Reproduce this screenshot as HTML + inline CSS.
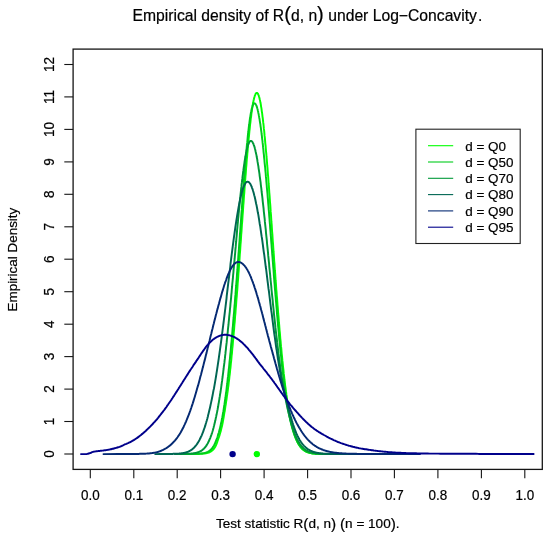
<!DOCTYPE html>
<html><head><meta charset="utf-8"><title>Empirical density of R(d, n) under Log-Concavity</title>
<style>html,body{margin:0;padding:0;background:#fff}svg{display:block}text{font-family:"Liberation Sans",Arial,Helvetica,sans-serif;fill:#000;stroke:#000;stroke-width:0.2px}</style></head><body>
<svg width="550" height="537" viewBox="0 0 550 537">
<rect width="550" height="537" fill="#fff"/>
<text x="307.4" y="20.8" font-size="15.7" text-anchor="middle">Empirical density of R<tspan font-size="20.2" dy="0.6">(</tspan><tspan dy="-0.6">d, n</tspan><tspan font-size="20.2" dy="0.6">)</tspan><tspan dy="-0.6"> under Log−Concavity<tspan dx="2.2">.</tspan></tspan></text>
<g fill="none" stroke-width="1.95" stroke-linejoin="round" stroke-linecap="round">
<path d="M190.0,454.1 L190.7,454.0 L190.9,454.0 L191.1,454.0 L191.4,454.0 L191.6,454.0 L191.9,454.0 L192.1,454.0 L192.3,454.0 L192.6,454.0 L192.8,454.0 L193.0,454.0 L193.3,454.0 L193.5,454.0 L193.7,454.0 L194.0,454.0 L194.2,454.0 L194.4,454.0 L194.7,454.0 L194.9,454.0 L195.1,453.9 L195.4,453.9 L195.6,453.9 L195.8,453.9 L196.1,453.9 L196.3,453.9 L196.5,453.9 L196.8,453.9 L197.0,453.9 L197.2,453.9 L197.5,453.9 L197.7,453.9 L197.9,453.9 L198.2,453.9 L198.4,453.9 L198.6,453.9 L198.9,453.9 L199.1,453.9 L199.3,453.8 L199.6,453.8 L199.8,453.8 L200.0,453.8 L200.3,453.8 L200.5,453.8 L200.7,453.8 L201.0,453.8 L201.2,453.8 L201.5,453.7 L201.7,453.7 L201.9,453.7 L202.2,453.7 L202.4,453.7 L202.6,453.7 L202.9,453.6 L203.1,453.6 L203.3,453.6 L203.6,453.6 L203.8,453.6 L204.0,453.5 L204.3,453.5 L204.5,453.5 L204.7,453.4 L205.0,453.4 L205.2,453.4 L205.4,453.3 L205.7,453.3 L205.9,453.3 L206.1,453.2 L206.4,453.2 L206.6,453.1 L206.8,453.1 L207.0,453.1 L207.2,453.0 L207.4,453.0 L207.6,452.9 L207.8,452.8 L208.0,452.8 L208.2,452.7 L208.4,452.6 L208.6,452.6 L208.8,452.5 L209.0,452.4 L209.2,452.4 L209.4,452.3 L209.6,452.2 L209.7,452.1 L209.9,452.0 L210.1,451.9 L210.3,451.8 L210.5,451.7 L210.7,451.6 L210.9,451.5 L211.1,451.3 L211.3,451.2 L211.5,451.1 L211.7,450.9 L211.8,450.8 L212.0,450.6 L212.2,450.5 L212.4,450.3 L212.6,450.1 L212.8,450.0 L213.0,449.8 L213.1,449.6 L213.3,449.4 L213.5,449.2 L213.7,449.0 L213.9,448.7 L214.1,448.5 L214.2,448.2 L214.4,448.0 L214.6,447.7 L214.8,447.5 L215.0,447.2 L215.1,446.9 L215.3,446.6 L215.5,446.3 L215.7,445.9 L215.8,445.6 L216.0,445.2 L216.1,444.9 L216.3,444.5 L216.5,444.1 L216.6,443.7 L216.8,443.3 L216.9,442.8 L217.1,442.4 L217.3,441.9 L217.4,441.4 L217.6,440.9 L217.8,440.4 L217.9,439.9 L218.1,439.4 L218.3,438.8 L218.5,438.2 L218.7,437.6 L218.9,437.0 L219.2,436.3 L219.4,435.7 L219.6,435.0 L219.8,434.3 L220.0,433.6 L220.2,432.8 L220.5,432.0 L220.7,431.2 L220.9,430.4 L221.1,429.6 L221.3,428.7 L221.5,427.8 L221.8,426.9 L222.0,426.0 L222.2,425.0 L222.4,424.0 L222.6,423.0 L222.8,422.0 L223.0,420.9 L223.2,419.8 L223.4,418.7 L223.6,417.5 L223.8,416.3 L224.0,415.1 L224.2,413.9 L224.4,412.6 L224.7,411.3 L224.9,409.9 L225.1,408.5 L225.3,407.1 L225.5,405.7 L225.8,404.2 L226.0,402.7 L226.2,401.2 L226.5,399.6 L226.7,398.0 L226.9,396.4 L227.2,394.7 L227.4,393.0 L227.7,391.2 L227.9,389.4 L228.1,387.6 L228.4,385.8 L228.6,383.9 L228.8,382.0 L229.1,380.0 L229.3,378.0 L229.5,376.0 L229.8,373.9 L230.0,371.8 L230.2,369.6 L230.5,367.5 L230.7,365.2 L230.9,363.0 L231.2,360.7 L231.4,358.4 L231.6,356.0 L231.9,353.6 L232.1,351.2 L232.3,348.7 L232.6,346.2 L232.8,343.7 L233.0,341.1 L233.3,338.5 L233.5,335.9 L233.7,333.2 L234.0,330.5 L234.2,327.8 L234.4,325.0 L234.7,322.2 L234.9,319.4 L235.1,316.5 L235.4,313.7 L235.6,310.7 L235.8,307.8 L236.1,304.8 L236.3,301.8 L236.5,298.8 L236.8,295.8 L237.0,292.7 L237.3,289.6 L237.5,286.5 L237.7,283.4 L238.0,280.2 L238.2,277.1 L238.4,273.9 L238.7,270.7 L238.9,267.5 L239.1,264.2 L239.4,261.0 L239.6,257.8 L239.8,254.5 L240.1,251.2 L240.3,247.9 L240.5,244.7 L240.8,241.4 L241.0,238.1 L241.2,234.8 L241.5,231.5 L241.7,228.2 L241.9,224.9 L242.2,221.7 L242.4,218.4 L242.6,215.1 L242.9,211.9 L243.1,208.6 L243.3,205.4 L243.6,202.2 L243.8,198.9 L244.0,195.8 L244.3,192.6 L244.5,189.4 L244.7,186.3 L245.0,183.2 L245.2,180.1 L245.4,177.1 L245.7,174.1 L245.9,171.1 L246.1,168.1 L246.4,165.2 L246.6,162.3 L246.8,159.5 L247.1,156.7 L247.3,153.9 L247.6,151.2 L247.8,148.5 L248.0,145.9 L248.3,143.3 L248.5,140.8 L248.7,138.3 L249.0,135.9 L249.2,133.5 L249.4,131.2 L249.7,128.9 L249.9,126.7 L250.1,124.5 L250.4,122.4 L250.6,120.4 L250.8,118.5 L251.1,116.6 L251.3,114.7 L251.5,113.0 L251.8,111.3 L252.0,109.6 L252.2,108.1 L252.5,106.6 L252.7,105.2 L252.9,103.8 L253.2,102.6 L253.4,101.4 L253.6,100.3 L253.9,99.2 L254.1,98.3 L254.3,97.4 L254.6,96.6 L254.8,95.8 L255.0,95.2 L255.3,94.6 L255.5,94.1 L255.7,93.7 L256.0,93.4 L256.2,93.2 L256.4,93.0 L256.7,92.9 L256.9,92.9 L257.2,93.0 L257.4,93.2 L257.6,93.4 L257.9,93.7 L258.1,94.1 L258.3,94.6 L258.6,95.2 L258.8,95.8 L259.0,96.6 L259.3,97.4 L259.5,98.3 L259.7,99.2 L260.0,100.3 L260.2,101.4 L260.4,102.6 L260.7,103.8 L260.9,105.2 L261.1,106.6 L261.4,108.1 L261.6,109.6 L261.8,111.3 L262.1,113.0 L262.3,114.7 L262.5,116.6 L262.8,118.5 L263.0,120.4 L263.2,122.4 L263.5,124.5 L263.7,126.7 L263.9,128.9 L264.2,131.2 L264.4,133.5 L264.6,135.9 L264.9,138.3 L265.1,140.8 L265.3,143.3 L265.6,145.9 L265.8,148.5 L266.0,151.2 L266.3,153.9 L266.5,156.7 L266.8,159.5 L267.0,162.3 L267.2,165.2 L267.5,168.1 L267.7,171.1 L267.9,174.1 L268.2,177.1 L268.4,180.1 L268.6,183.2 L268.9,186.3 L269.1,189.4 L269.3,192.6 L269.6,195.8 L269.8,198.9 L270.0,202.2 L270.3,205.4 L270.5,208.6 L270.7,211.9 L271.0,215.1 L271.2,218.4 L271.4,221.7 L271.7,224.9 L271.9,228.2 L272.1,231.5 L272.4,234.8 L272.6,238.1 L272.8,241.4 L273.1,244.7 L273.3,247.9 L273.5,251.2 L273.8,254.5 L274.0,257.8 L274.2,261.0 L274.5,264.2 L274.7,267.5 L274.9,270.7 L275.2,273.9 L275.4,277.1 L275.6,280.2 L275.9,283.4 L276.1,286.5 L276.3,289.6 L276.6,292.7 L276.8,295.8 L277.1,298.8 L277.3,301.8 L277.5,304.8 L277.8,307.8 L278.0,310.7 L278.2,313.7 L278.5,316.5 L278.7,319.4 L278.9,322.2 L279.2,325.0 L279.4,327.8 L279.6,330.5 L279.9,333.2 L280.1,335.9 L280.3,338.5 L280.6,341.1 L280.8,343.7 L281.0,346.2 L281.3,348.7 L281.5,351.2 L281.7,353.6 L282.0,356.0 L282.2,358.4 L282.4,360.7 L282.7,363.0 L282.9,365.2 L283.1,367.5 L283.4,369.6 L283.6,371.8 L283.8,373.9 L284.1,376.0 L284.3,378.0 L284.5,380.0 L284.8,382.0 L285.0,383.9 L285.2,385.8 L285.5,387.6 L285.7,389.4 L285.9,391.2 L286.2,393.0 L286.4,394.7 L286.7,396.4 L286.9,398.0 L287.1,399.6 L287.4,401.2 L287.6,402.7 L287.8,404.2 L288.1,405.7 L288.3,407.1 L288.5,408.5 L288.8,409.9 L289.0,411.3 L289.2,412.6 L289.5,413.9 L289.7,415.1 L289.9,416.3 L290.2,417.5 L290.4,418.7 L290.6,419.8 L290.9,420.9 L291.1,422.0 L291.3,423.0 L291.6,424.0 L291.8,425.0 L292.0,426.0 L292.3,426.9 L292.5,427.8 L292.7,428.7 L293.0,429.6 L293.2,430.4 L293.4,431.2 L293.7,432.0 L293.9,432.8 L294.1,433.6 L294.4,434.3 L294.6,435.0 L294.8,435.7 L295.1,436.3 L295.3,437.0 L295.5,437.6 L295.8,438.2 L296.0,438.8 L296.2,439.4 L296.5,439.9 L296.7,440.4 L297.0,440.9 L297.2,441.4 L297.4,441.9 L297.7,442.4 L297.9,442.8 L298.1,443.3 L298.4,443.7 L298.6,444.1 L298.8,444.5 L299.1,444.9 L299.3,445.2 L299.5,445.6 L299.8,445.9 L300.0,446.3 L300.2,446.6 L300.5,446.9 L300.7,447.2 L300.9,447.5 L301.2,447.7 L301.4,448.0 L301.6,448.2 L301.9,448.5 L302.1,448.7 L302.3,449.0 L302.6,449.2 L302.8,449.4 L303.0,449.6 L303.3,449.8 L303.5,450.0 L303.7,450.1 L304.0,450.3 L304.2,450.5 L304.4,450.6 L304.7,450.8 L304.9,450.9 L305.1,451.1 L305.4,451.2 L305.6,451.3 L305.8,451.5 L306.1,451.6 L306.3,451.7 L306.6,451.8 L306.8,451.9 L307.0,452.0 L307.3,452.1 L307.5,452.2 L307.7,452.3 L308.0,452.4 L308.2,452.4 L308.4,452.5 L308.7,452.6 L308.9,452.6 L309.1,452.7 L309.4,452.8 L309.6,452.8 L309.8,452.9 L310.1,453.0 L310.3,453.0 L310.5,453.1 L310.8,453.1 L311.0,453.1 L311.2,453.2 L311.5,453.2 L311.7,453.3 L311.9,453.3 L312.2,453.3 L312.4,453.4 L312.6,453.4 L312.9,453.4 L313.1,453.5 L313.3,453.5 L313.6,453.5 L313.8,453.6 L314.0,453.6 L314.3,453.6 L314.5,453.6 L314.7,453.6 L315.0,453.7 L315.2,453.7 L315.4,453.7 L315.7,453.7 L315.9,453.7 L316.1,453.7 L316.4,453.8 L316.6,453.8 L316.9,453.8 L317.1,453.8 L317.3,453.8 L317.6,453.8 L317.8,453.8 L318.0,453.8 L318.3,453.8 L318.5,453.9 L318.7,453.9 L319.0,453.9 L319.2,453.9 L319.4,453.9 L319.7,453.9 L319.9,453.9 L320.1,453.9 L320.4,453.9 L320.6,453.9 L320.8,453.9 L321.1,453.9 L321.3,453.9 L321.5,453.9 L321.8,453.9 L322.0,453.9 L322.2,453.9 L322.5,453.9 L322.7,454.0 L322.9,454.0 L323.2,454.0 L323.4,454.0 L323.6,454.0 L323.9,454.0 L324.1,454.0 L324.3,454.0 L324.6,454.0 L324.8,454.0 L325.0,454.0 L325.3,454.0 L325.5,454.0 L325.7,454.0 L326.0,454.0 L326.2,454.0 L326.5,454.0 L326.7,454.0 L326.9,454.0 L340.0,454.0" stroke="#00ff00"/>
<path d="M185.0,454.1 L187.3,454.0 L187.5,454.0 L187.8,454.0 L188.0,454.0 L188.3,454.0 L188.5,454.0 L188.7,454.0 L189.0,454.0 L189.2,454.0 L189.5,454.0 L189.7,454.0 L190.0,454.0 L190.2,454.0 L190.4,454.0 L190.7,454.0 L190.9,454.0 L191.2,454.0 L191.4,454.0 L191.6,454.0 L191.9,454.0 L192.1,453.9 L192.4,453.9 L192.6,453.9 L192.8,453.9 L193.1,453.9 L193.3,453.9 L193.6,453.9 L193.8,453.9 L194.1,453.9 L194.3,453.9 L194.5,453.9 L194.8,453.9 L195.0,453.9 L195.3,453.9 L195.5,453.9 L195.7,453.9 L196.0,453.9 L196.2,453.9 L196.5,453.8 L196.7,453.8 L196.9,453.8 L197.2,453.8 L197.4,453.8 L197.7,453.8 L197.9,453.8 L198.1,453.8 L198.4,453.8 L198.6,453.7 L198.9,453.7 L199.1,453.7 L199.4,453.7 L199.6,453.7 L199.8,453.7 L200.1,453.6 L200.3,453.6 L200.6,453.6 L200.8,453.6 L201.0,453.5 L201.3,453.5 L201.5,453.5 L201.8,453.5 L202.0,453.4 L202.2,453.4 L202.5,453.4 L202.7,453.3 L203.0,453.3 L203.2,453.3 L203.4,453.2 L203.7,453.2 L203.9,453.1 L204.1,453.1 L204.3,453.0 L204.5,453.0 L204.7,452.9 L205.0,452.9 L205.2,452.8 L205.4,452.8 L205.6,452.7 L205.8,452.6 L206.0,452.5 L206.2,452.5 L206.5,452.4 L206.7,452.3 L206.9,452.2 L207.1,452.1 L207.3,452.1 L207.5,452.0 L207.7,451.9 L207.9,451.8 L208.1,451.6 L208.3,451.5 L208.5,451.4 L208.8,451.3 L209.0,451.2 L209.2,451.0 L209.4,450.9 L209.6,450.7 L209.8,450.6 L210.0,450.4 L210.2,450.2 L210.4,450.1 L210.6,449.9 L210.8,449.7 L211.0,449.5 L211.2,449.3 L211.4,449.1 L211.6,448.9 L211.8,448.6 L212.0,448.4 L212.2,448.2 L212.4,447.9 L212.6,447.6 L212.8,447.4 L212.9,447.1 L213.1,446.8 L213.3,446.5 L213.5,446.2 L213.7,445.8 L213.9,445.5 L214.1,445.1 L214.3,444.8 L214.5,444.4 L214.7,444.0 L214.9,443.6 L215.1,443.2 L215.3,442.7 L215.4,442.3 L215.6,441.8 L215.8,441.3 L216.0,440.8 L216.2,440.3 L216.5,439.8 L216.7,439.2 L216.9,438.7 L217.1,438.1 L217.3,437.5 L217.5,436.8 L217.7,436.2 L217.9,435.5 L218.1,434.9 L218.3,434.1 L218.6,433.4 L218.8,432.7 L219.0,431.9 L219.2,431.1 L219.4,430.3 L219.6,429.5 L219.9,428.6 L220.1,427.7 L220.3,426.8 L220.5,425.9 L220.7,424.9 L220.9,423.9 L221.2,422.9 L221.4,421.9 L221.6,420.8 L221.8,419.7 L222.0,418.6 L222.3,417.4 L222.5,416.2 L222.7,415.0 L222.9,413.8 L223.1,412.5 L223.4,411.2 L223.6,409.9 L223.8,408.5 L224.0,407.1 L224.2,405.7 L224.5,404.2 L224.7,402.7 L224.9,401.2 L225.1,399.6 L225.4,398.0 L225.6,396.4 L225.8,394.7 L226.0,393.0 L226.3,391.3 L226.5,389.5 L226.7,387.7 L226.9,385.9 L227.2,384.0 L227.4,382.1 L227.6,380.2 L227.8,378.2 L228.1,376.2 L228.3,374.2 L228.5,372.1 L228.7,370.0 L229.0,367.8 L229.2,365.6 L229.4,363.4 L229.6,361.1 L229.9,358.8 L230.1,356.5 L230.3,354.2 L230.6,351.8 L230.8,349.3 L231.0,346.9 L231.2,344.4 L231.5,341.8 L231.7,339.3 L231.9,336.7 L232.2,334.1 L232.4,331.4 L232.6,328.7 L232.9,326.0 L233.1,323.3 L233.3,320.5 L233.6,317.7 L233.8,314.9 L234.1,312.0 L234.3,309.1 L234.5,306.2 L234.8,303.3 L235.0,300.3 L235.2,297.4 L235.5,294.4 L235.7,291.3 L235.9,288.3 L236.2,285.2 L236.4,282.2 L236.7,279.1 L236.9,276.0 L237.1,272.8 L237.4,269.7 L237.6,266.6 L237.8,263.4 L238.1,260.2 L238.3,257.1 L238.5,253.9 L238.8,250.7 L239.0,247.5 L239.2,244.3 L239.5,241.1 L239.7,237.9 L239.9,234.7 L240.2,231.5 L240.4,228.3 L240.6,225.2 L240.9,222.0 L241.1,218.8 L241.3,215.7 L241.5,212.5 L241.8,209.4 L242.0,206.3 L242.2,203.2 L242.4,200.1 L242.7,197.1 L242.9,194.0 L243.1,191.0 L243.3,188.0 L243.6,185.1 L243.8,182.1 L244.0,179.2 L244.2,176.4 L244.5,173.5 L244.7,170.7 L244.9,168.0 L245.1,165.3 L245.4,162.6 L245.6,159.9 L245.8,157.3 L246.0,154.8 L246.3,152.3 L246.5,149.8 L246.7,147.4 L246.9,145.0 L247.2,142.7 L247.4,140.5 L247.6,138.3 L247.8,136.1 L248.0,134.0 L248.3,132.0 L248.5,130.0 L248.7,128.1 L248.9,126.3 L249.2,124.5 L249.4,122.8 L249.6,121.1 L249.8,119.5 L250.0,118.0 L250.3,116.6 L250.5,115.2 L250.7,113.9 L250.9,112.7 L251.2,111.5 L251.4,110.4 L251.6,109.4 L251.8,108.5 L252.1,107.6 L252.3,106.9 L252.5,106.1 L252.7,105.5 L253.0,105.0 L253.2,104.5 L253.4,104.1 L253.7,103.8 L253.9,103.5 L254.1,103.4 L254.4,103.3 L254.6,103.3 L254.9,103.4 L255.1,103.5 L255.3,103.8 L255.6,104.1 L255.8,104.5 L256.1,105.0 L256.3,105.5 L256.6,106.1 L256.8,106.9 L257.1,107.6 L257.3,108.5 L257.6,109.4 L257.8,110.4 L258.1,111.5 L258.3,112.7 L258.6,113.9 L258.8,115.2 L259.1,116.6 L259.3,118.0 L259.6,119.5 L259.8,121.1 L260.1,122.8 L260.4,124.5 L260.6,126.3 L260.9,128.1 L261.1,130.0 L261.4,132.0 L261.6,134.0 L261.9,136.1 L262.1,138.3 L262.4,140.5 L262.6,142.7 L262.9,145.0 L263.1,147.4 L263.4,149.8 L263.6,152.3 L263.9,154.8 L264.1,157.3 L264.4,159.9 L264.6,162.6 L264.9,165.3 L265.2,168.0 L265.4,170.7 L265.7,173.5 L265.9,176.4 L266.2,179.2 L266.4,182.1 L266.7,185.1 L266.9,188.0 L267.2,191.0 L267.5,194.0 L267.7,197.1 L268.0,200.1 L268.2,203.2 L268.5,206.3 L268.7,209.4 L269.0,212.5 L269.2,215.7 L269.5,218.8 L269.7,222.0 L270.0,225.2 L270.2,228.3 L270.5,231.5 L270.7,234.7 L271.0,237.9 L271.2,241.1 L271.5,244.3 L271.7,247.5 L272.0,250.7 L272.2,253.9 L272.5,257.1 L272.7,260.2 L273.0,263.4 L273.2,266.6 L273.5,269.7 L273.7,272.8 L273.9,276.0 L274.2,279.1 L274.4,282.2 L274.7,285.2 L274.9,288.3 L275.2,291.3 L275.4,294.4 L275.7,297.4 L275.9,300.3 L276.2,303.3 L276.4,306.2 L276.7,309.1 L276.9,312.0 L277.1,314.9 L277.4,317.7 L277.6,320.5 L277.9,323.3 L278.1,326.0 L278.4,328.7 L278.6,331.4 L278.9,334.1 L279.1,336.7 L279.3,339.3 L279.6,341.8 L279.8,344.4 L280.1,346.9 L280.3,349.3 L280.6,351.8 L280.8,354.2 L281.1,356.5 L281.3,358.8 L281.5,361.1 L281.8,363.4 L282.0,365.6 L282.3,367.8 L282.5,370.0 L282.8,372.1 L283.0,374.2 L283.3,376.2 L283.5,378.2 L283.7,380.2 L284.0,382.1 L284.2,384.0 L284.5,385.9 L284.7,387.7 L285.0,389.5 L285.2,391.3 L285.5,393.0 L285.7,394.7 L286.0,396.4 L286.2,398.0 L286.5,399.6 L286.7,401.2 L286.9,402.7 L287.2,404.2 L287.4,405.7 L287.7,407.1 L287.9,408.5 L288.2,409.9 L288.4,411.2 L288.7,412.5 L288.9,413.8 L289.2,415.0 L289.4,416.2 L289.7,417.4 L289.9,418.6 L290.2,419.7 L290.4,420.8 L290.7,421.9 L290.9,422.9 L291.2,423.9 L291.4,424.9 L291.7,425.9 L291.9,426.8 L292.2,427.7 L292.4,428.6 L292.7,429.5 L292.9,430.3 L293.2,431.1 L293.4,431.9 L293.7,432.7 L293.9,433.4 L294.2,434.1 L294.4,434.9 L294.7,435.5 L294.9,436.2 L295.2,436.8 L295.4,437.5 L295.7,438.1 L295.9,438.7 L296.2,439.2 L296.4,439.8 L296.7,440.3 L296.9,440.8 L297.1,441.3 L297.4,441.8 L297.6,442.3 L297.9,442.7 L298.1,443.2 L298.3,443.6 L298.6,444.0 L298.8,444.4 L299.1,444.8 L299.3,445.1 L299.6,445.5 L299.8,445.8 L300.0,446.2 L300.3,446.5 L300.5,446.8 L300.8,447.1 L301.0,447.4 L301.2,447.6 L301.5,447.9 L301.7,448.2 L302.0,448.4 L302.2,448.6 L302.4,448.9 L302.7,449.1 L302.9,449.3 L303.2,449.5 L303.4,449.7 L303.7,449.9 L303.9,450.1 L304.1,450.2 L304.4,450.4 L304.6,450.6 L304.9,450.7 L305.1,450.9 L305.3,451.0 L305.6,451.2 L305.8,451.3 L306.0,451.4 L306.3,451.5 L306.5,451.6 L306.7,451.8 L307.0,451.9 L307.2,452.0 L307.4,452.1 L307.7,452.1 L307.9,452.2 L308.1,452.3 L308.4,452.4 L308.6,452.5 L308.8,452.5 L309.0,452.6 L309.3,452.7 L309.5,452.8 L309.7,452.8 L310.0,452.9 L310.2,452.9 L310.4,453.0 L310.6,453.0 L310.9,453.1 L311.1,453.1 L311.3,453.2 L311.6,453.2 L311.8,453.3 L312.0,453.3 L312.3,453.3 L312.5,453.4 L312.8,453.4 L313.0,453.4 L313.2,453.5 L313.5,453.5 L313.7,453.5 L314.0,453.5 L314.2,453.6 L314.4,453.6 L314.7,453.6 L314.9,453.6 L315.2,453.7 L315.4,453.7 L315.6,453.7 L315.9,453.7 L316.1,453.7 L316.4,453.7 L316.6,453.8 L316.9,453.8 L317.1,453.8 L317.3,453.8 L317.6,453.8 L317.8,453.8 L318.1,453.8 L318.3,453.8 L318.5,453.8 L318.8,453.9 L319.0,453.9 L319.3,453.9 L319.5,453.9 L319.7,453.9 L320.0,453.9 L320.2,453.9 L320.5,453.9 L320.7,453.9 L320.9,453.9 L321.2,453.9 L321.4,453.9 L321.7,453.9 L321.9,453.9 L322.2,453.9 L322.4,453.9 L322.6,453.9 L322.9,453.9 L323.1,454.0 L323.4,454.0 L323.6,454.0 L323.8,454.0 L324.1,454.0 L324.3,454.0 L324.6,454.0 L324.8,454.0 L325.0,454.0 L325.3,454.0 L325.5,454.0 L325.8,454.0 L326.0,454.0 L326.3,454.0 L326.5,454.0 L326.7,454.0 L327.0,454.0 L327.2,454.0 L327.5,454.0 L327.7,454.0 L345.0,454.0" stroke="#00cc1c"/>
<path d="M175.0,454.1 L175.3,454.0 L175.6,454.0 L175.9,454.0 L176.1,454.0 L176.4,454.0 L176.7,454.0 L177.0,454.0 L177.2,454.0 L177.5,454.0 L177.8,454.0 L178.0,454.0 L178.3,454.0 L178.6,454.0 L178.8,454.0 L179.1,454.0 L179.4,454.0 L179.7,454.0 L179.9,454.0 L180.2,454.0 L180.5,454.0 L180.7,454.0 L181.0,454.0 L181.3,453.9 L181.5,453.9 L181.8,453.9 L182.1,453.9 L182.4,453.9 L182.6,453.9 L182.9,453.9 L183.2,453.9 L183.4,453.9 L183.7,453.9 L184.0,453.9 L184.2,453.9 L184.5,453.9 L184.8,453.9 L185.1,453.9 L185.3,453.9 L185.6,453.9 L185.9,453.9 L186.1,453.8 L186.4,453.8 L186.7,453.8 L186.9,453.8 L187.2,453.8 L187.5,453.8 L187.8,453.8 L188.0,453.8 L188.3,453.8 L188.6,453.7 L188.8,453.7 L189.1,453.7 L189.4,453.7 L189.6,453.7 L189.9,453.7 L190.2,453.6 L190.5,453.6 L190.7,453.6 L191.0,453.6 L191.3,453.5 L191.5,453.5 L191.8,453.5 L192.1,453.5 L192.3,453.4 L192.6,453.4 L192.9,453.4 L193.2,453.3 L193.4,453.3 L193.7,453.3 L193.9,453.2 L194.2,453.2 L194.4,453.1 L194.7,453.1 L195.0,453.0 L195.2,453.0 L195.5,452.9 L195.7,452.9 L196.0,452.8 L196.2,452.8 L196.5,452.7 L196.7,452.6 L197.0,452.6 L197.2,452.5 L197.5,452.4 L197.7,452.3 L198.0,452.3 L198.2,452.2 L198.5,452.1 L198.7,452.0 L198.9,451.9 L199.2,451.8 L199.4,451.7 L199.7,451.6 L199.9,451.5 L200.2,451.3 L200.4,451.2 L200.7,451.1 L200.9,450.9 L201.1,450.8 L201.4,450.7 L201.6,450.5 L201.9,450.3 L202.1,450.2 L202.3,450.0 L202.6,449.8 L202.8,449.6 L203.1,449.4 L203.3,449.2 L203.5,449.0 L203.8,448.8 L204.0,448.6 L204.2,448.3 L204.4,448.1 L204.7,447.8 L204.9,447.6 L205.1,447.3 L205.4,447.0 L205.6,446.7 L205.8,446.4 L206.0,446.1 L206.3,445.8 L206.5,445.4 L206.7,445.1 L206.9,444.7 L207.2,444.3 L207.4,443.9 L207.6,443.5 L207.9,443.1 L208.1,442.7 L208.3,442.2 L208.5,441.8 L208.8,441.3 L209.0,440.8 L209.2,440.3 L209.5,439.8 L209.7,439.2 L209.9,438.7 L210.2,438.1 L210.4,437.5 L210.6,436.9 L210.9,436.3 L211.1,435.6 L211.3,435.0 L211.6,434.3 L211.8,433.6 L212.1,432.8 L212.3,432.1 L212.5,431.3 L212.8,430.5 L213.0,429.7 L213.2,428.9 L213.5,428.0 L213.7,427.1 L213.9,426.2 L214.2,425.3 L214.4,424.3 L214.6,423.4 L214.9,422.4 L215.1,421.3 L215.4,420.3 L215.6,419.2 L215.8,418.1 L216.1,416.9 L216.3,415.8 L216.6,414.6 L216.8,413.4 L217.1,412.1 L217.3,410.8 L217.6,409.5 L217.8,408.2 L218.1,406.8 L218.3,405.4 L218.5,404.0 L218.8,402.6 L219.0,401.1 L219.3,399.6 L219.5,398.0 L219.8,396.4 L220.0,394.8 L220.3,393.2 L220.6,391.5 L220.8,389.8 L221.1,388.1 L221.3,386.3 L221.6,384.5 L221.8,382.7 L222.1,380.9 L222.3,379.0 L222.6,377.0 L222.8,375.1 L223.1,373.1 L223.3,371.1 L223.6,369.0 L223.8,367.0 L224.1,364.9 L224.4,362.7 L224.6,360.6 L224.9,358.4 L225.1,356.1 L225.4,353.9 L225.6,351.6 L225.9,349.3 L226.1,346.9 L226.4,344.6 L226.7,342.2 L226.9,339.7 L227.2,337.3 L227.4,334.8 L227.7,332.3 L227.9,329.8 L228.2,327.2 L228.5,324.7 L228.7,322.1 L229.0,319.4 L229.2,316.8 L229.5,314.2 L229.8,311.5 L230.0,308.8 L230.3,306.1 L230.5,303.3 L230.8,300.6 L231.1,297.8 L231.3,295.1 L231.6,292.3 L231.8,289.5 L232.1,286.7 L232.3,283.8 L232.6,281.0 L232.9,278.2 L233.1,275.3 L233.4,272.5 L233.6,269.6 L233.9,266.8 L234.1,263.9 L234.4,261.1 L234.7,258.2 L234.9,255.4 L235.2,252.5 L235.4,249.7 L235.7,246.9 L235.9,244.0 L236.2,241.2 L236.4,238.4 L236.7,235.6 L236.9,232.9 L237.1,230.1 L237.4,227.3 L237.6,224.6 L237.9,221.9 L238.1,219.2 L238.4,216.6 L238.6,213.9 L238.9,211.3 L239.1,208.7 L239.4,206.1 L239.6,203.6 L239.9,201.1 L240.1,198.6 L240.4,196.2 L240.6,193.8 L240.9,191.5 L241.1,189.1 L241.4,186.9 L241.6,184.6 L241.9,182.4 L242.1,180.3 L242.4,178.2 L242.6,176.1 L242.9,174.1 L243.1,172.1 L243.4,170.2 L243.6,168.3 L243.9,166.5 L244.1,164.8 L244.4,163.1 L244.6,161.4 L244.9,159.8 L245.1,158.3 L245.4,156.8 L245.6,155.4 L245.9,154.1 L246.1,152.8 L246.4,151.5 L246.6,150.4 L246.9,149.3 L247.1,148.2 L247.4,147.3 L247.6,146.4 L247.9,145.5 L248.1,144.8 L248.4,144.1 L248.7,143.4 L248.9,142.9 L249.2,142.4 L249.4,142.0 L249.7,141.6 L250.0,141.3 L250.2,141.1 L250.5,141.0 L250.8,140.9 L251.0,140.9 L251.3,141.0 L251.6,141.1 L251.8,141.3 L252.1,141.6 L252.4,142.0 L252.7,142.4 L252.9,142.9 L253.2,143.4 L253.5,144.1 L253.7,144.8 L254.0,145.5 L254.3,146.4 L254.6,147.3 L254.8,148.2 L255.1,149.3 L255.4,150.4 L255.6,151.5 L255.9,152.8 L256.2,154.1 L256.5,155.4 L256.7,156.8 L257.0,158.3 L257.3,159.8 L257.5,161.4 L257.8,163.1 L258.1,164.8 L258.4,166.5 L258.6,168.3 L258.9,170.2 L259.2,172.1 L259.5,174.1 L259.7,176.1 L260.0,178.2 L260.3,180.3 L260.6,182.4 L260.8,184.6 L261.1,186.9 L261.4,189.1 L261.6,191.5 L261.9,193.8 L262.2,196.2 L262.5,198.6 L262.7,201.1 L263.0,203.6 L263.3,206.1 L263.6,208.7 L263.8,211.3 L264.1,213.9 L264.4,216.6 L264.7,219.2 L264.9,221.9 L265.2,224.6 L265.5,227.3 L265.8,230.1 L266.0,232.9 L266.3,235.6 L266.6,238.4 L266.9,241.2 L267.1,244.0 L267.4,246.9 L267.7,249.7 L268.0,252.5 L268.2,255.4 L268.5,258.2 L268.8,261.1 L269.1,263.9 L269.3,266.8 L269.6,269.6 L269.9,272.5 L270.2,275.3 L270.4,278.2 L270.7,281.0 L271.0,283.8 L271.3,286.7 L271.5,289.5 L271.8,292.3 L272.1,295.1 L272.4,297.8 L272.7,300.6 L272.9,303.3 L273.2,306.1 L273.5,308.8 L273.8,311.5 L274.0,314.2 L274.3,316.8 L274.6,319.4 L274.9,322.1 L275.2,324.7 L275.4,327.2 L275.7,329.8 L276.0,332.3 L276.3,334.8 L276.6,337.3 L276.9,339.7 L277.1,342.2 L277.4,344.6 L277.7,346.9 L278.0,349.3 L278.3,351.6 L278.5,353.9 L278.8,356.1 L279.1,358.4 L279.4,360.6 L279.7,362.7 L280.0,364.9 L280.3,367.0 L280.5,369.0 L280.8,371.1 L281.1,373.1 L281.4,375.1 L281.7,377.0 L282.0,379.0 L282.3,380.9 L282.6,382.7 L282.9,384.5 L283.2,386.3 L283.5,388.1 L283.8,389.8 L284.1,391.5 L284.5,393.2 L284.8,394.8 L285.1,396.4 L285.4,398.0 L285.7,399.6 L286.0,401.1 L286.3,402.6 L286.6,404.0 L286.9,405.4 L287.2,406.8 L287.5,408.2 L287.8,409.5 L288.1,410.8 L288.4,412.1 L288.7,413.4 L289.0,414.6 L289.3,415.8 L289.6,416.9 L289.9,418.1 L290.2,419.2 L290.4,420.3 L290.7,421.3 L291.0,422.4 L291.3,423.4 L291.6,424.3 L291.8,425.3 L292.1,426.2 L292.4,427.1 L292.7,428.0 L293.0,428.9 L293.2,429.7 L293.5,430.5 L293.8,431.3 L294.1,432.1 L294.3,432.8 L294.6,433.6 L294.9,434.3 L295.2,435.0 L295.5,435.6 L295.7,436.3 L296.0,436.9 L296.3,437.5 L296.6,438.1 L296.8,438.7 L297.1,439.2 L297.4,439.8 L297.6,440.3 L297.9,440.8 L298.2,441.3 L298.5,441.8 L298.7,442.2 L299.0,442.7 L299.3,443.1 L299.5,443.5 L299.8,443.9 L300.1,444.3 L300.4,444.7 L300.6,445.1 L300.9,445.4 L301.2,445.8 L301.4,446.1 L301.7,446.4 L302.0,446.7 L302.2,447.0 L302.5,447.3 L302.8,447.6 L303.1,447.8 L303.3,448.1 L303.6,448.3 L303.9,448.6 L304.1,448.8 L304.4,449.0 L304.7,449.2 L304.9,449.4 L305.2,449.6 L305.5,449.8 L305.8,450.0 L306.0,450.2 L306.3,450.3 L306.6,450.5 L306.8,450.7 L307.1,450.8 L307.4,450.9 L307.6,451.1 L307.9,451.2 L308.2,451.3 L308.4,451.5 L308.7,451.6 L309.0,451.7 L309.2,451.8 L309.5,451.9 L309.8,452.0 L310.0,452.1 L310.3,452.2 L310.5,452.3 L310.8,452.3 L311.1,452.4 L311.3,452.5 L311.6,452.6 L311.8,452.6 L312.1,452.7 L312.4,452.8 L312.6,452.8 L312.9,452.9 L313.1,452.9 L313.4,453.0 L313.6,453.0 L313.9,453.1 L314.2,453.1 L314.4,453.2 L314.7,453.2 L314.9,453.3 L315.2,453.3 L315.4,453.3 L315.7,453.4 L316.0,453.4 L316.3,453.4 L316.5,453.5 L316.8,453.5 L317.1,453.5 L317.3,453.5 L317.6,453.6 L317.9,453.6 L318.1,453.6 L318.4,453.6 L318.7,453.7 L319.0,453.7 L319.2,453.7 L319.5,453.7 L319.8,453.7 L320.0,453.7 L320.3,453.8 L320.6,453.8 L320.8,453.8 L321.1,453.8 L321.4,453.8 L321.7,453.8 L321.9,453.8 L322.2,453.8 L322.5,453.8 L322.7,453.9 L323.0,453.9 L323.3,453.9 L323.5,453.9 L323.8,453.9 L324.1,453.9 L324.4,453.9 L324.6,453.9 L324.9,453.9 L325.2,453.9 L325.4,453.9 L325.7,453.9 L326.0,453.9 L326.2,453.9 L326.5,453.9 L326.8,453.9 L327.1,453.9 L327.3,453.9 L327.6,454.0 L327.9,454.0 L328.1,454.0 L328.4,454.0 L328.7,454.0 L328.9,454.0 L329.2,454.0 L329.5,454.0 L329.8,454.0 L330.0,454.0 L330.3,454.0 L330.6,454.0 L330.8,454.0 L331.1,454.0 L331.4,454.0 L331.6,454.0 L331.9,454.0 L332.2,454.0 L332.5,454.0 L332.7,454.0 L333.0,454.0 L333.3,454.0 L350.0,454.0" stroke="#009938"/>
<path d="M155.2,454.1 L160.1,454.0 L160.4,454.0 L160.7,454.0 L161.0,454.0 L161.4,454.0 L161.7,454.0 L162.0,454.0 L162.3,454.0 L162.6,454.0 L162.9,454.0 L163.2,454.0 L163.5,454.0 L163.8,454.0 L164.2,454.0 L164.5,454.0 L164.8,454.0 L165.1,454.0 L165.4,454.0 L165.7,454.0 L166.0,454.0 L166.3,454.0 L166.6,454.0 L166.9,454.0 L167.3,454.0 L167.6,453.9 L167.9,453.9 L168.2,453.9 L168.5,453.9 L168.8,453.9 L169.1,453.9 L169.4,453.9 L169.7,453.9 L170.0,453.9 L170.4,453.9 L170.7,453.9 L171.0,453.9 L171.3,453.9 L171.6,453.9 L171.9,453.9 L172.2,453.9 L172.5,453.9 L172.8,453.9 L173.2,453.8 L173.5,453.8 L173.8,453.8 L174.1,453.8 L174.4,453.8 L174.7,453.8 L175.0,453.8 L175.3,453.8 L175.6,453.8 L175.9,453.7 L176.3,453.7 L176.6,453.7 L176.9,453.7 L177.2,453.7 L177.5,453.7 L177.8,453.6 L178.1,453.6 L178.4,453.6 L178.7,453.6 L179.1,453.6 L179.4,453.5 L179.7,453.5 L180.0,453.5 L180.3,453.5 L180.6,453.4 L180.9,453.4 L181.2,453.4 L181.4,453.3 L181.7,453.3 L182.0,453.2 L182.2,453.2 L182.5,453.2 L182.8,453.1 L183.0,453.1 L183.3,453.0 L183.6,453.0 L183.8,452.9 L184.1,452.9 L184.4,452.8 L184.6,452.8 L184.9,452.7 L185.2,452.6 L185.4,452.6 L185.7,452.5 L186.0,452.4 L186.2,452.3 L186.5,452.3 L186.8,452.2 L187.0,452.1 L187.3,452.0 L187.5,451.9 L187.8,451.8 L188.1,451.7 L188.3,451.6 L188.6,451.5 L188.8,451.3 L189.1,451.2 L189.3,451.1 L189.6,451.0 L189.9,450.8 L190.1,450.7 L190.4,450.5 L190.6,450.4 L190.9,450.2 L191.1,450.0 L191.4,449.8 L191.7,449.7 L191.9,449.5 L192.2,449.3 L192.4,449.1 L192.7,448.9 L193.0,448.6 L193.2,448.4 L193.5,448.2 L193.8,447.9 L194.0,447.7 L194.3,447.4 L194.5,447.1 L194.8,446.8 L195.1,446.5 L195.3,446.2 L195.6,445.9 L195.9,445.6 L196.1,445.2 L196.4,444.9 L196.7,444.5 L196.9,444.2 L197.2,443.8 L197.5,443.4 L197.7,443.0 L198.0,442.5 L198.3,442.1 L198.6,441.6 L198.8,441.2 L199.1,440.7 L199.4,440.2 L199.6,439.7 L199.9,439.1 L200.2,438.6 L200.5,438.0 L200.7,437.4 L201.0,436.8 L201.3,436.2 L201.6,435.6 L201.9,434.9 L202.1,434.3 L202.4,433.6 L202.7,432.9 L203.0,432.2 L203.3,431.4 L203.5,430.6 L203.8,429.8 L204.1,429.0 L204.4,428.2 L204.7,427.4 L205.0,426.5 L205.3,425.6 L205.5,424.7 L205.8,423.7 L206.1,422.8 L206.4,421.8 L206.7,420.8 L207.0,419.7 L207.3,418.7 L207.6,417.6 L207.9,416.5 L208.1,415.3 L208.4,414.2 L208.7,413.0 L209.0,411.8 L209.3,410.5 L209.6,409.3 L209.9,408.0 L210.2,406.7 L210.5,405.3 L210.8,403.9 L211.1,402.6 L211.4,401.1 L211.7,399.7 L212.0,398.2 L212.3,396.7 L212.6,395.2 L212.9,393.6 L213.2,392.0 L213.5,390.4 L213.9,388.7 L214.2,387.1 L214.5,385.4 L214.8,383.6 L215.1,381.9 L215.4,380.1 L215.7,378.3 L216.0,376.5 L216.3,374.6 L216.6,372.7 L216.9,370.8 L217.2,368.9 L217.5,366.9 L217.8,364.9 L218.1,362.9 L218.4,360.9 L218.7,358.8 L219.0,356.7 L219.3,354.6 L219.6,352.5 L219.9,350.3 L220.2,348.2 L220.5,346.0 L220.8,343.8 L221.1,341.5 L221.4,339.3 L221.7,337.0 L222.0,334.7 L222.3,332.4 L222.6,330.0 L222.9,327.7 L223.2,325.3 L223.5,323.0 L223.8,320.6 L224.1,318.2 L224.4,315.8 L224.7,313.3 L225.0,310.9 L225.3,308.5 L225.6,306.0 L225.9,303.6 L226.2,301.1 L226.5,298.6 L226.7,296.1 L227.0,293.7 L227.3,291.2 L227.6,288.7 L227.9,286.2 L228.2,283.7 L228.5,281.3 L228.8,278.8 L229.1,276.3 L229.4,273.9 L229.7,271.4 L230.0,269.0 L230.3,266.5 L230.5,264.1 L230.8,261.7 L231.1,259.3 L231.4,256.9 L231.7,254.5 L232.0,252.1 L232.3,249.8 L232.6,247.5 L232.9,245.2 L233.2,242.9 L233.5,240.7 L233.8,238.4 L234.1,236.2 L234.4,234.1 L234.7,231.9 L235.0,229.8 L235.3,227.7 L235.6,225.7 L235.9,223.7 L236.2,221.7 L236.5,219.7 L236.8,217.8 L237.1,215.9 L237.4,214.1 L237.7,212.3 L238.0,210.6 L238.3,208.8 L238.6,207.2 L238.9,205.6 L239.2,204.0 L239.5,202.5 L239.8,201.0 L240.1,199.5 L240.4,198.2 L240.7,196.8 L241.0,195.5 L241.3,194.3 L241.6,193.1 L241.9,192.0 L242.2,191.0 L242.5,189.9 L242.8,189.0 L243.1,188.1 L243.5,187.2 L243.8,186.5 L244.1,185.7 L244.4,185.1 L244.7,184.5 L245.0,183.9 L245.3,183.4 L245.6,183.0 L245.9,182.6 L246.2,182.3 L246.5,182.1 L246.8,181.9 L247.1,181.8 L247.4,181.7 L247.8,181.7 L248.1,181.8 L248.4,181.9 L248.7,182.1 L249.0,182.3 L249.3,182.6 L249.6,183.0 L249.9,183.4 L250.3,183.9 L250.6,184.5 L250.9,185.1 L251.2,185.7 L251.5,186.5 L251.8,187.2 L252.1,188.1 L252.5,189.0 L252.8,189.9 L253.1,191.0 L253.4,192.0 L253.7,193.1 L254.0,194.3 L254.3,195.5 L254.7,196.8 L255.0,198.2 L255.3,199.5 L255.6,201.0 L255.9,202.5 L256.2,204.0 L256.6,205.6 L256.9,207.2 L257.2,208.8 L257.5,210.6 L257.8,212.3 L258.2,214.1 L258.5,215.9 L258.8,217.8 L259.1,219.7 L259.4,221.7 L259.7,223.7 L260.1,225.7 L260.4,227.7 L260.7,229.8 L261.0,231.9 L261.3,234.1 L261.6,236.2 L262.0,238.4 L262.3,240.7 L262.6,242.9 L262.9,245.2 L263.2,247.5 L263.5,249.8 L263.8,252.1 L264.2,254.5 L264.5,256.9 L264.8,259.3 L265.1,261.7 L265.4,264.1 L265.7,266.5 L266.1,269.0 L266.4,271.4 L266.7,273.9 L267.0,276.3 L267.3,278.8 L267.6,281.3 L267.9,283.7 L268.2,286.2 L268.5,288.7 L268.9,291.2 L269.2,293.7 L269.5,296.1 L269.8,298.6 L270.1,301.1 L270.4,303.6 L270.7,306.0 L271.0,308.5 L271.3,310.9 L271.7,313.3 L272.0,315.8 L272.3,318.2 L272.6,320.6 L272.9,323.0 L273.2,325.3 L273.5,327.7 L273.8,330.0 L274.1,332.4 L274.4,334.7 L274.8,337.0 L275.1,339.3 L275.4,341.5 L275.7,343.8 L276.0,346.0 L276.3,348.2 L276.7,350.3 L277.0,352.5 L277.3,354.6 L277.6,356.7 L277.9,358.8 L278.3,360.9 L278.6,362.9 L278.9,364.9 L279.3,366.9 L279.6,368.9 L279.9,370.8 L280.3,372.7 L280.6,374.6 L280.9,376.5 L281.3,378.3 L281.6,380.1 L282.0,381.9 L282.3,383.6 L282.7,385.4 L283.1,387.1 L283.5,388.7 L283.9,390.4 L284.3,392.0 L284.7,393.6 L285.1,395.2 L285.5,396.7 L285.8,398.2 L286.2,399.7 L286.5,401.1 L286.9,402.6 L287.2,403.9 L287.6,405.3 L287.9,406.7 L288.3,408.0 L288.6,409.3 L289.0,410.5 L289.3,411.8 L289.7,413.0 L290.0,414.2 L290.3,415.3 L290.7,416.5 L291.0,417.6 L291.3,418.7 L291.7,419.7 L292.0,420.8 L292.3,421.8 L292.6,422.8 L292.9,423.7 L293.2,424.7 L293.5,425.6 L293.8,426.5 L294.1,427.4 L294.4,428.2 L294.7,429.0 L295.0,429.8 L295.3,430.6 L295.6,431.4 L295.9,432.2 L296.1,432.9 L296.4,433.6 L296.7,434.3 L297.1,434.9 L297.4,435.6 L297.7,436.2 L298.0,436.8 L298.3,437.4 L298.6,438.0 L298.9,438.6 L299.2,439.1 L299.5,439.7 L299.8,440.2 L300.1,440.7 L300.4,441.2 L300.7,441.6 L301.0,442.1 L301.4,442.5 L301.7,443.0 L302.0,443.4 L302.3,443.8 L302.6,444.2 L302.9,444.5 L303.2,444.9 L303.5,445.2 L303.8,445.6 L304.1,445.9 L304.4,446.2 L304.8,446.5 L305.1,446.8 L305.4,447.1 L305.7,447.4 L306.0,447.7 L306.3,447.9 L306.6,448.2 L306.9,448.4 L307.2,448.6 L307.5,448.9 L307.8,449.1 L308.1,449.3 L308.5,449.5 L308.8,449.7 L309.1,449.8 L309.4,450.0 L309.7,450.2 L310.0,450.4 L310.3,450.5 L310.6,450.7 L310.9,450.8 L311.2,451.0 L311.5,451.1 L311.8,451.2 L312.1,451.3 L312.4,451.5 L312.7,451.6 L313.1,451.7 L313.4,451.8 L313.7,451.9 L314.0,452.0 L314.3,452.1 L314.6,452.2 L314.9,452.3 L315.2,452.3 L315.5,452.4 L315.8,452.5 L316.1,452.6 L316.4,452.6 L316.7,452.7 L317.0,452.8 L317.3,452.8 L317.6,452.9 L317.9,452.9 L318.2,453.0 L318.5,453.0 L318.9,453.1 L319.2,453.1 L319.5,453.2 L319.8,453.2 L320.1,453.2 L320.4,453.3 L320.7,453.3 L321.0,453.4 L321.3,453.4 L321.6,453.4 L321.9,453.5 L322.2,453.5 L322.5,453.5 L322.8,453.5 L323.1,453.6 L323.5,453.6 L323.8,453.6 L324.1,453.6 L324.4,453.6 L324.7,453.7 L325.0,453.7 L325.3,453.7 L325.6,453.7 L325.9,453.7 L326.3,453.7 L326.6,453.8 L326.9,453.8 L327.2,453.8 L327.5,453.8 L327.8,453.8 L328.1,453.8 L328.4,453.8 L328.7,453.8 L329.0,453.8 L329.4,453.9 L329.7,453.9 L330.0,453.9 L330.3,453.9 L330.6,453.9 L330.9,453.9 L331.2,453.9 L331.5,453.9 L331.8,453.9 L332.2,453.9 L332.5,453.9 L332.8,453.9 L333.1,453.9 L333.4,453.9 L333.7,453.9 L334.0,453.9 L334.3,453.9 L334.6,453.9 L334.9,454.0 L335.3,454.0 L335.6,454.0 L335.9,454.0 L336.2,454.0 L336.5,454.0 L336.8,454.0 L337.1,454.0 L337.4,454.0 L337.7,454.0 L338.0,454.0 L338.4,454.0 L338.7,454.0 L339.0,454.0 L339.3,454.0 L339.6,454.0 L339.9,454.0 L340.2,454.0 L340.5,454.0 L340.8,454.0 L341.2,454.0 L341.5,454.0 L341.8,454.0 L342.1,454.0 L380.0,454.0" stroke="#006653"/>
<path d="M103.5,454.1 L118.5,454.0 L119.0,454.0 L119.4,454.0 L119.8,454.0 L120.3,454.0 L120.7,454.0 L121.2,454.0 L121.6,454.0 L122.0,454.0 L122.5,454.0 L122.9,454.0 L123.4,454.0 L123.8,454.0 L124.2,454.0 L124.7,454.0 L125.1,454.0 L125.6,454.0 L126.0,454.0 L126.5,454.0 L126.9,454.0 L127.3,454.0 L127.8,454.0 L128.2,454.0 L128.7,454.0 L129.1,454.0 L129.5,454.0 L130.0,454.0 L130.4,454.0 L130.9,454.0 L131.3,454.0 L131.7,453.9 L132.2,453.9 L132.6,453.9 L133.1,453.9 L133.5,453.9 L133.9,453.9 L134.4,453.9 L134.8,453.9 L135.3,453.9 L135.7,453.9 L136.1,453.9 L136.6,453.9 L137.0,453.9 L137.5,453.9 L137.9,453.9 L138.3,453.9 L138.8,453.9 L139.2,453.9 L139.7,453.8 L140.1,453.8 L140.5,453.8 L141.0,453.8 L141.4,453.8 L141.9,453.8 L142.2,453.8 L142.6,453.8 L143.0,453.8 L143.3,453.7 L143.7,453.7 L144.0,453.7 L144.4,453.7 L144.7,453.7 L145.1,453.7 L145.4,453.7 L145.8,453.6 L146.1,453.6 L146.5,453.6 L146.8,453.6 L147.2,453.5 L147.5,453.5 L147.9,453.5 L148.2,453.5 L148.6,453.4 L148.9,453.4 L149.3,453.4 L149.6,453.4 L150.0,453.3 L150.3,453.3 L150.7,453.2 L151.0,453.2 L151.4,453.2 L151.7,453.1 L152.1,453.1 L152.4,453.0 L152.7,453.0 L153.1,452.9 L153.4,452.9 L153.8,452.8 L154.1,452.8 L154.5,452.7 L154.8,452.6 L155.1,452.6 L155.5,452.5 L155.8,452.4 L156.2,452.4 L156.5,452.3 L156.8,452.2 L157.1,452.1 L157.5,452.0 L157.8,451.9 L158.1,451.9 L158.4,451.8 L158.7,451.6 L159.1,451.5 L159.4,451.4 L159.7,451.3 L160.0,451.2 L160.4,451.1 L160.7,450.9 L161.0,450.8 L161.4,450.7 L161.7,450.5 L162.0,450.4 L162.4,450.2 L162.7,450.1 L163.1,449.9 L163.4,449.7 L163.8,449.5 L164.1,449.3 L164.5,449.1 L164.9,448.9 L165.2,448.7 L165.6,448.5 L166.0,448.3 L166.3,448.1 L166.7,447.8 L167.1,447.6 L167.5,447.3 L167.9,447.1 L168.2,446.8 L168.6,446.5 L169.0,446.2 L169.4,445.9 L169.8,445.6 L170.2,445.3 L170.6,444.9 L171.0,444.6 L171.4,444.3 L171.7,443.9 L172.1,443.5 L172.5,443.1 L172.9,442.7 L173.3,442.3 L173.7,441.9 L174.1,441.5 L174.5,441.0 L174.9,440.6 L175.3,440.1 L175.7,439.6 L176.1,439.1 L176.5,438.6 L176.9,438.1 L177.3,437.5 L177.7,437.0 L178.1,436.4 L178.5,435.8 L178.9,435.2 L179.3,434.6 L179.7,434.0 L180.1,433.3 L180.5,432.7 L180.9,432.0 L181.3,431.3 L181.7,430.6 L182.1,429.8 L182.5,429.1 L182.9,428.3 L183.3,427.5 L183.7,426.7 L184.0,425.9 L184.4,425.1 L184.8,424.2 L185.2,423.4 L185.6,422.5 L186.0,421.6 L186.4,420.6 L186.8,419.7 L187.2,418.7 L187.6,417.7 L188.0,416.7 L188.4,415.7 L188.8,414.7 L189.2,413.6 L189.6,412.5 L190.0,411.4 L190.4,410.3 L190.8,409.1 L191.2,408.0 L191.6,406.8 L192.0,405.6 L192.4,404.4 L192.8,403.2 L193.2,401.9 L193.6,400.6 L194.0,399.3 L194.4,398.0 L194.8,396.7 L195.2,395.3 L195.6,394.0 L196.0,392.6 L196.4,391.2 L196.8,389.8 L197.2,388.3 L197.6,386.9 L198.1,385.4 L198.5,383.9 L198.9,382.4 L199.3,380.9 L199.7,379.4 L200.1,377.8 L200.5,376.3 L201.0,374.7 L201.4,373.1 L201.8,371.5 L202.2,369.9 L202.6,368.2 L203.1,366.6 L203.5,364.9 L203.9,363.3 L204.3,361.6 L204.8,359.9 L205.2,358.2 L205.6,356.5 L206.0,354.8 L206.5,353.1 L206.9,351.4 L207.3,349.7 L207.7,347.9 L208.2,346.2 L208.6,344.4 L209.0,342.7 L209.5,340.9 L209.9,339.2 L210.3,337.4 L210.7,335.7 L211.2,334.0 L211.6,332.2 L212.0,330.5 L212.5,328.7 L212.9,327.0 L213.3,325.2 L213.8,323.5 L214.2,321.8 L214.6,320.1 L215.1,318.4 L215.5,316.7 L215.9,315.0 L216.4,313.3 L216.8,311.7 L217.2,310.0 L217.7,308.4 L218.1,306.8 L218.5,305.2 L219.0,303.6 L219.4,302.0 L219.8,300.5 L220.2,298.9 L220.7,297.4 L221.1,295.9 L221.5,294.5 L221.9,293.0 L222.3,291.6 L222.8,290.2 L223.2,288.8 L223.6,287.5 L224.0,286.1 L224.4,284.8 L224.8,283.6 L225.2,282.3 L225.7,281.1 L226.1,280.0 L226.5,278.8 L226.9,277.7 L227.3,276.6 L227.7,275.6 L228.1,274.6 L228.5,273.6 L229.0,272.7 L229.4,271.8 L229.8,270.9 L230.2,270.1 L230.6,269.3 L231.0,268.5 L231.5,267.8 L231.9,267.1 L232.3,266.5 L232.7,265.9 L233.1,265.4 L233.5,264.8 L233.9,264.4 L234.3,263.9 L234.8,263.6 L235.2,263.2 L235.6,262.9 L236.0,262.7 L236.5,262.4 L236.9,262.3 L237.3,262.1 L237.7,262.0 L238.2,262.0 L238.6,262.0 L239.1,262.0 L239.5,262.1 L240.0,262.3 L240.4,262.4 L240.9,262.7 L241.4,262.9 L241.8,263.2 L242.3,263.6 L242.8,263.9 L243.2,264.4 L243.7,264.8 L244.2,265.4 L244.7,265.9 L245.1,266.5 L245.6,267.1 L246.1,267.8 L246.5,268.5 L247.0,269.3 L247.5,270.1 L247.9,270.9 L248.4,271.8 L248.9,272.7 L249.3,273.6 L249.8,274.6 L250.2,275.6 L250.7,276.6 L251.1,277.7 L251.5,278.8 L252.0,280.0 L252.4,281.1 L252.9,282.3 L253.3,283.6 L253.8,284.8 L254.2,286.1 L254.6,287.5 L255.1,288.8 L255.5,290.2 L256.0,291.6 L256.4,293.0 L256.8,294.5 L257.3,295.9 L257.7,297.4 L258.2,298.9 L258.6,300.5 L259.0,302.0 L259.5,303.6 L259.9,305.2 L260.4,306.8 L260.8,308.4 L261.2,310.0 L261.7,311.7 L262.1,313.3 L262.6,315.0 L263.0,316.7 L263.4,318.4 L263.9,320.1 L264.3,321.8 L264.8,323.5 L265.2,325.2 L265.7,327.0 L266.1,328.7 L266.6,330.5 L267.0,332.2 L267.5,334.0 L267.9,335.7 L268.4,337.4 L268.9,339.2 L269.3,340.9 L269.8,342.7 L270.3,344.4 L270.7,346.2 L271.2,347.9 L271.7,349.7 L272.2,351.4 L272.6,353.1 L273.1,354.8 L273.6,356.5 L274.0,358.2 L274.5,359.9 L275.0,361.6 L275.4,363.3 L275.9,364.9 L276.4,366.6 L276.8,368.2 L277.3,369.9 L277.8,371.5 L278.2,373.1 L278.7,374.7 L279.1,376.3 L279.6,377.8 L280.1,379.4 L280.5,380.9 L281.0,382.4 L281.5,383.9 L281.9,385.4 L282.4,386.9 L282.8,388.3 L283.3,389.8 L283.8,391.2 L284.2,392.6 L284.7,394.0 L285.2,395.3 L285.6,396.7 L286.1,398.0 L286.5,399.3 L287.0,400.6 L287.5,401.9 L287.9,403.2 L288.4,404.4 L288.9,405.6 L289.3,406.8 L289.8,408.0 L290.3,409.1 L290.7,410.3 L291.2,411.4 L291.7,412.5 L292.1,413.6 L292.6,414.7 L293.1,415.7 L293.5,416.7 L294.0,417.7 L294.5,418.7 L294.9,419.7 L295.4,420.6 L295.9,421.6 L296.3,422.5 L296.8,423.4 L297.3,424.2 L297.7,425.1 L298.2,425.9 L298.7,426.7 L299.1,427.5 L299.6,428.3 L300.1,429.1 L300.5,429.8 L301.0,430.6 L301.4,431.3 L301.9,432.0 L302.4,432.7 L302.8,433.3 L303.3,434.0 L303.7,434.6 L304.2,435.2 L304.6,435.8 L305.1,436.4 L305.6,437.0 L306.0,437.5 L306.5,438.1 L306.9,438.6 L307.4,439.1 L307.8,439.6 L308.3,440.1 L308.8,440.6 L309.2,441.0 L309.7,441.5 L310.1,441.9 L310.6,442.3 L311.0,442.7 L311.5,443.1 L312.0,443.5 L312.4,443.9 L312.9,444.3 L313.3,444.6 L313.8,444.9 L314.3,445.3 L314.7,445.6 L315.2,445.9 L315.6,446.2 L316.1,446.5 L316.6,446.8 L317.0,447.1 L317.5,447.3 L317.9,447.6 L318.4,447.8 L318.9,448.1 L319.3,448.3 L319.8,448.5 L320.2,448.7 L320.7,448.9 L321.2,449.1 L321.6,449.3 L322.1,449.5 L322.6,449.7 L323.0,449.9 L323.5,450.1 L323.9,450.2 L324.4,450.4 L324.9,450.5 L325.3,450.7 L325.8,450.8 L326.3,450.9 L326.7,451.1 L327.2,451.2 L327.7,451.3 L328.1,451.4 L328.6,451.5 L329.1,451.6 L329.6,451.8 L330.0,451.9 L330.5,451.9 L331.0,452.0 L331.5,452.1 L331.9,452.2 L332.4,452.3 L332.9,452.4 L333.4,452.4 L333.9,452.5 L334.4,452.6 L334.9,452.6 L335.4,452.7 L335.9,452.8 L336.3,452.8 L336.8,452.9 L337.3,452.9 L337.8,453.0 L338.3,453.0 L338.8,453.1 L339.3,453.1 L339.8,453.2 L340.3,453.2 L340.8,453.2 L341.3,453.3 L341.8,453.3 L342.3,453.4 L342.9,453.4 L343.4,453.4 L343.9,453.4 L344.4,453.5 L344.9,453.5 L345.4,453.5 L345.9,453.5 L346.4,453.6 L346.9,453.6 L347.4,453.6 L348.0,453.6 L348.5,453.7 L349.0,453.7 L349.5,453.7 L350.0,453.7 L350.6,453.7 L351.1,453.7 L351.6,453.7 L352.1,453.8 L352.7,453.8 L353.2,453.8 L353.7,453.8 L354.2,453.8 L354.8,453.8 L355.3,453.8 L355.8,453.8 L356.4,453.8 L356.9,453.9 L357.4,453.9 L358.0,453.9 L358.5,453.9 L359.0,453.9 L359.6,453.9 L360.1,453.9 L360.7,453.9 L361.1,453.9 L361.5,453.9 L362.0,453.9 L362.4,453.9 L362.9,453.9 L363.3,453.9 L363.7,453.9 L364.2,453.9 L364.6,453.9 L365.1,453.9 L365.5,454.0 L365.9,454.0 L366.4,454.0 L366.8,454.0 L367.3,454.0 L367.7,454.0 L368.1,454.0 L368.6,454.0 L369.0,454.0 L369.5,454.0 L369.9,454.0 L370.3,454.0 L370.8,454.0 L371.2,454.0 L371.7,454.0 L372.1,454.0 L372.6,454.0 L373.0,454.0 L373.4,454.0 L373.9,454.0 L374.3,454.0 L374.8,454.0 L375.2,454.0 L375.6,454.0 L376.1,454.0 L376.5,454.0 L377.0,454.0 L377.4,454.0 L377.8,454.0 L378.3,454.0 L420.0,454.0" stroke="#052a73"/>
<path d="M81.0,454.1 L81.7,454.1 L82.4,454.1 L83.1,454.1 L83.8,454.1 L84.5,454.1 L85.2,454.1 L85.9,454.1 L86.6,454.1 L87.3,453.9 L88.0,453.7 L88.7,453.5 L89.4,453.3 L90.1,453.1 L90.8,452.8 L91.5,452.5 L92.2,452.1 L92.9,451.9 L93.6,451.7 L94.3,451.6 L95.0,451.5 L95.7,451.4 L96.4,451.3 L97.1,451.2 L97.8,451.1 L98.5,451.0 L99.2,450.9 L99.9,450.9 L100.6,450.8 L101.3,450.7 L102.0,450.6 L102.7,450.6 L103.4,450.5 L104.1,450.4 L104.8,450.3 L105.5,450.2 L106.2,450.1 L106.9,450.0 L107.6,449.9 L108.3,449.7 L109.0,449.6 L109.7,449.5 L110.4,449.3 L111.1,449.2 L111.8,449.0 L112.5,448.8 L113.2,448.7 L113.9,448.5 L114.6,448.3 L115.3,448.1 L116.0,447.9 L116.7,447.7 L117.4,447.5 L118.1,447.3 L118.8,447.1 L119.5,446.9 L120.2,446.6 L120.9,446.3 L121.6,446.1 L122.3,445.7 L123.0,445.4 L123.7,445.0 L124.8,444.4 L125.6,444.1 L126.5,443.8 L127.3,443.4 L128.1,443.1 L128.9,442.7 L129.7,442.3 L130.5,442.0 L131.2,441.6 L131.9,441.2 L132.7,440.7 L133.4,440.3 L134.1,439.9 L134.8,439.4 L135.5,439.0 L136.2,438.5 L136.8,438.1 L137.5,437.6 L138.2,437.1 L138.9,436.6 L139.6,436.0 L140.3,435.5 L141.0,435.0 L141.6,434.4 L142.3,433.9 L143.0,433.3 L143.7,432.7 L144.4,432.1 L145.1,431.5 L145.8,430.9 L146.4,430.2 L147.1,429.6 L147.8,428.9 L148.5,428.2 L149.2,427.6 L149.9,426.9 L150.6,426.2 L151.3,425.4 L152.0,424.7 L152.7,424.0 L153.4,423.2 L154.1,422.4 L154.8,421.7 L155.5,420.9 L156.2,420.1 L156.9,419.3 L157.6,418.4 L158.3,417.6 L159.0,416.7 L159.6,415.9 L160.3,415.0 L161.0,414.1 L161.7,413.2 L162.4,412.3 L163.1,411.4 L163.8,410.5 L164.5,409.6 L165.2,408.6 L165.9,407.7 L166.6,406.7 L167.2,405.7 L167.9,404.8 L168.6,403.8 L169.3,402.8 L170.0,401.8 L170.7,400.8 L171.4,399.7 L172.0,398.7 L172.7,397.7 L173.4,396.6 L174.1,395.6 L174.8,394.5 L175.4,393.5 L176.1,392.4 L176.8,391.4 L177.5,390.3 L178.2,389.2 L178.8,388.1 L179.5,387.1 L180.2,386.0 L180.9,384.9 L181.6,383.8 L182.3,382.7 L182.9,381.6 L183.6,380.6 L184.3,379.5 L185.0,378.4 L185.7,377.3 L186.4,376.2 L187.1,375.1 L187.8,374.1 L188.4,373.0 L189.1,371.9 L189.8,370.9 L190.5,369.8 L191.2,368.8 L191.9,367.7 L192.6,366.7 L193.3,365.6 L193.9,364.6 L194.6,363.6 L195.3,362.6 L196.0,361.6 L196.6,360.6 L197.3,359.6 L198.0,358.7 L198.6,357.7 L199.2,356.8 L199.8,355.9 L200.4,354.9 L201.0,354.0 L201.6,353.2 L202.2,352.3 L202.8,351.4 L203.3,350.6 L203.9,349.8 L204.5,349.0 L205.1,348.2 L205.6,347.4 L206.2,346.7 L206.8,346.0 L207.4,345.2 L208.0,344.6 L208.6,343.9 L209.2,343.2 L209.8,342.6 L210.4,342.0 L211.0,341.4 L211.6,340.9 L212.2,340.3 L212.8,339.8 L213.4,339.3 L214.0,338.9 L214.7,338.4 L215.3,338.0 L215.9,337.6 L216.5,337.2 L217.2,336.9 L217.8,336.6 L218.4,336.3 L219.0,336.0 L219.7,335.8 L220.3,335.6 L220.9,335.4 L221.6,335.2 L222.2,335.1 L222.9,335.0 L223.5,334.9 L224.2,334.8 L224.9,334.8 L225.5,334.8 L226.2,334.8 L226.9,334.9 L227.6,335.0 L228.3,335.1 L229.0,335.2 L229.7,335.4 L230.4,335.6 L231.1,335.8 L231.7,336.0 L232.4,336.3 L233.1,336.6 L233.8,336.9 L234.5,337.2 L235.2,337.6 L235.9,338.0 L236.6,338.4 L237.3,338.9 L238.0,339.3 L238.7,339.8 L239.3,340.3 L240.0,340.9 L240.7,341.4 L241.4,342.0 L242.1,342.6 L242.8,343.2 L243.4,343.9 L244.1,344.6 L244.8,345.2 L245.5,346.0 L246.2,346.7 L246.9,347.4 L247.6,348.2 L248.3,349.0 L248.9,349.8 L249.6,350.6 L250.3,351.4 L251.0,352.3 L251.7,353.2 L252.4,354.0 L253.1,354.9 L253.8,355.9 L254.5,356.8 L255.2,357.7 L255.9,358.7 L256.6,359.6 L257.3,360.6 L258.0,361.6 L258.8,362.6 L259.5,363.6 L260.3,364.6 L261.1,365.6 L262.0,366.7 L262.8,367.7 L263.6,368.8 L264.5,369.8 L265.3,370.9 L266.2,371.9 L267.0,373.0 L267.8,374.1 L268.6,375.1 L269.5,376.2 L270.3,377.3 L271.2,378.4 L272.0,379.5 L272.8,380.6 L273.6,381.6 L274.3,382.7 L275.1,383.8 L275.9,384.9 L276.7,386.0 L277.4,387.1 L278.2,388.1 L279.0,389.2 L279.7,390.3 L280.5,391.4 L281.2,392.4 L282.0,393.5 L282.7,394.5 L283.5,395.6 L284.3,396.6 L285.0,397.7 L285.8,398.7 L286.6,399.7 L287.4,400.8 L288.2,401.8 L289.0,402.8 L289.7,403.8 L290.5,404.8 L291.3,405.7 L292.1,406.7 L292.9,407.7 L293.7,408.6 L294.6,409.6 L295.4,410.5 L296.2,411.4 L297.0,412.3 L297.8,413.2 L298.6,414.1 L299.4,415.0 L300.2,415.9 L301.0,416.7 L301.8,417.6 L302.6,418.4 L303.4,419.3 L304.2,420.1 L305.1,420.9 L305.9,421.7 L306.7,422.4 L307.5,423.2 L308.3,424.0 L309.2,424.7 L310.0,425.4 L310.9,426.2 L311.7,426.9 L312.6,427.6 L313.4,428.2 L314.3,428.9 L315.2,429.6 L316.2,430.2 L317.1,430.9 L318.1,431.5 L319.0,432.1 L320.0,432.7 L321.0,433.3 L321.9,433.9 L322.9,434.4 L323.9,435.0 L324.9,435.5 L325.8,436.0 L326.8,436.6 L327.7,437.1 L328.6,437.6 L329.6,438.1 L330.5,438.5 L331.4,439.0 L332.4,439.4 L333.3,439.9 L334.2,440.3 L335.2,440.7 L336.1,441.2 L337.1,441.6 L338.0,442.0 L339.0,442.3 L339.9,442.7 L340.9,443.1 L341.9,443.4 L342.9,443.8 L343.9,444.1 L344.9,444.4 L345.9,444.8 L346.9,445.1 L347.9,445.4 L348.9,445.7 L349.9,445.9 L350.9,446.2 L351.9,446.5 L352.9,446.8 L354.0,447.0 L355.0,447.3 L356.0,447.5 L357.0,447.7 L358.1,447.9 L359.1,448.2 L360.2,448.4 L361.3,448.6 L362.5,448.8 L363.7,449.0 L364.9,449.2 L366.1,449.3 L367.3,449.5 L368.4,449.7 L369.6,449.9 L370.7,450.0 L371.7,450.2 L372.8,450.3 L373.8,450.5 L374.7,450.6 L375.7,450.7 L376.7,450.9 L377.7,451.0 L378.6,451.1 L379.6,451.2 L380.5,451.3 L381.5,451.4 L382.5,451.5 L383.5,451.6 L384.5,451.7 L385.5,451.8 L386.5,451.9 L387.6,452.0 L388.6,452.1 L389.6,452.2 L390.7,452.3 L391.7,452.3 L392.8,452.4 L393.8,452.5 L394.9,452.5 L396.0,452.6 L397.2,452.7 L398.3,452.7 L399.5,452.8 L400.6,452.8 L401.8,452.9 L403.0,452.9 L404.2,453.0 L405.4,453.0 L406.6,453.1 L407.9,453.1 L409.1,453.2 L410.5,453.2 L411.8,453.2 L413.1,453.3 L414.5,453.3 L416.0,453.3 L417.4,453.4 L418.9,453.4 L420.5,453.4 L422.2,453.5 L423.9,453.5 L425.8,453.5 L427.7,453.5 L429.7,453.6 L431.8,453.6 L433.9,453.6 L436.0,453.6 L438.2,453.6 L440.4,453.7 L442.6,453.7 L444.8,453.7 L447.0,453.7 L449.2,453.7 L451.5,453.7 L453.8,453.7 L456.1,453.8 L458.5,453.8 L460.9,453.8 L463.3,453.8 L465.7,453.8 L468.2,453.8 L470.7,453.8 L473.3,453.8 L475.9,453.8 L478.5,453.9 L481.1,453.9 L483.8,453.9 L486.5,453.9 L489.2,453.9 L492.0,453.9 L494.8,453.9 L497.6,453.9 L500.5,453.9 L503.4,453.9 L505.0,453.9 L505.7,453.9 L506.4,453.9 L507.1,453.9 L507.8,453.9 L508.5,453.9 L509.2,453.9 L510.0,453.9 L510.7,453.9 L511.4,454.0 L512.1,454.0 L512.8,454.0 L513.5,454.0 L514.2,454.0 L514.9,454.0 L515.6,454.0 L516.3,454.0 L517.0,454.0 L517.8,454.0 L518.5,454.0 L519.2,454.0 L519.9,454.0 L520.6,454.0 L521.3,454.0 L522.0,454.0 L522.7,454.0 L523.4,454.0 L524.1,454.0 L524.8,454.0 L525.6,454.0 L526.3,454.0 L527.0,454.0 L527.7,454.0 L528.4,454.0 L529.1,454.0 L529.8,454.0 L530.5,454.0 L531.2,454.0 L531.9,454.0 L532.7,454.0 L533.4,454.0 L533.6,454.0" stroke="#00008b"/>
</g>
<circle cx="256.8" cy="454.1" r="3.2" fill="#00ff00"/>
<circle cx="232.6" cy="454.1" r="3.2" fill="#00008b"/>
<g stroke="#151515" fill="none">
<rect x="73.1" y="49.1" width="469.2" height="420.3" stroke-width="1.3"/>
<line x1="90.3" y1="469.4" x2="90.3" y2="478.2" stroke-width="1.1"/>
<line x1="133.8" y1="469.4" x2="133.8" y2="478.2" stroke-width="1.1"/>
<line x1="177.2" y1="469.4" x2="177.2" y2="478.2" stroke-width="1.1"/>
<line x1="220.6" y1="469.4" x2="220.6" y2="478.2" stroke-width="1.1"/>
<line x1="264.1" y1="469.4" x2="264.1" y2="478.2" stroke-width="1.1"/>
<line x1="307.6" y1="469.4" x2="307.6" y2="478.2" stroke-width="1.1"/>
<line x1="351.0" y1="469.4" x2="351.0" y2="478.2" stroke-width="1.1"/>
<line x1="394.4" y1="469.4" x2="394.4" y2="478.2" stroke-width="1.1"/>
<line x1="437.9" y1="469.4" x2="437.9" y2="478.2" stroke-width="1.1"/>
<line x1="481.4" y1="469.4" x2="481.4" y2="478.2" stroke-width="1.1"/>
<line x1="524.8" y1="469.4" x2="524.8" y2="478.2" stroke-width="1.1"/>
<line x1="73.1" y1="454.0" x2="64.3" y2="454.0" stroke-width="1.1"/>
<line x1="73.1" y1="421.5" x2="64.3" y2="421.5" stroke-width="1.1"/>
<line x1="73.1" y1="389.1" x2="64.3" y2="389.1" stroke-width="1.1"/>
<line x1="73.1" y1="356.6" x2="64.3" y2="356.6" stroke-width="1.1"/>
<line x1="73.1" y1="324.2" x2="64.3" y2="324.2" stroke-width="1.1"/>
<line x1="73.1" y1="291.7" x2="64.3" y2="291.7" stroke-width="1.1"/>
<line x1="73.1" y1="259.2" x2="64.3" y2="259.2" stroke-width="1.1"/>
<line x1="73.1" y1="226.8" x2="64.3" y2="226.8" stroke-width="1.1"/>
<line x1="73.1" y1="194.3" x2="64.3" y2="194.3" stroke-width="1.1"/>
<line x1="73.1" y1="161.9" x2="64.3" y2="161.9" stroke-width="1.1"/>
<line x1="73.1" y1="129.4" x2="64.3" y2="129.4" stroke-width="1.1"/>
<line x1="73.1" y1="96.9" x2="64.3" y2="96.9" stroke-width="1.1"/>
<line x1="73.1" y1="64.5" x2="64.3" y2="64.5" stroke-width="1.1"/>
</g>
<g font-size="13.45" text-anchor="middle">
<text transform="translate(90.3,499.6) scale(1,1.06)">0.0</text>
<text transform="translate(133.8,499.6) scale(1,1.06)">0.1</text>
<text transform="translate(177.2,499.6) scale(1,1.06)">0.2</text>
<text transform="translate(220.6,499.6) scale(1,1.06)">0.3</text>
<text transform="translate(264.1,499.6) scale(1,1.06)">0.4</text>
<text transform="translate(307.6,499.6) scale(1,1.06)">0.5</text>
<text transform="translate(351.0,499.6) scale(1,1.06)">0.6</text>
<text transform="translate(394.4,499.6) scale(1,1.06)">0.7</text>
<text transform="translate(437.9,499.6) scale(1,1.06)">0.8</text>
<text transform="translate(481.4,499.6) scale(1,1.06)">0.9</text>
<text transform="translate(524.8,499.6) scale(1,1.06)">1.0</text>
<text transform="translate(53.6,454.0) rotate(-90) scale(1,1.08)">0</text>
<text transform="translate(53.6,421.5) rotate(-90) scale(1,1.08)">1</text>
<text transform="translate(53.6,389.1) rotate(-90) scale(1,1.08)">2</text>
<text transform="translate(53.6,356.6) rotate(-90) scale(1,1.08)">3</text>
<text transform="translate(53.6,324.2) rotate(-90) scale(1,1.08)">4</text>
<text transform="translate(53.6,291.7) rotate(-90) scale(1,1.08)">5</text>
<text transform="translate(53.6,259.2) rotate(-90) scale(1,1.08)">6</text>
<text transform="translate(53.6,226.8) rotate(-90) scale(1,1.08)">7</text>
<text transform="translate(53.6,194.3) rotate(-90) scale(1,1.08)">8</text>
<text transform="translate(53.6,161.9) rotate(-90) scale(1,1.08)">9</text>
<text transform="translate(53.6,129.4) rotate(-90) scale(1,1.08)">10</text>
<text transform="translate(53.6,96.9) rotate(-90) scale(1,1.08)">11</text>
<text transform="translate(53.6,64.5) rotate(-90) scale(1,1.08)">12</text>
</g>
<text x="307.8" y="528.4" font-size="13.55" text-anchor="middle">Test statistic R<tspan font-size="15.4" dy="0.3">(</tspan><tspan dy="-0.3">d, n</tspan><tspan font-size="15.4" dy="0.3">)</tspan><tspan dy="-0.3"> </tspan><tspan font-size="15.4" dy="0.3">(</tspan><tspan dy="-0.3">n = 100</tspan><tspan font-size="15.4" dy="0.3">)</tspan><tspan dy="-0.3">.</tspan></text>
<text transform="translate(17.4,259.6) rotate(-90)" font-size="13.45" text-anchor="middle">Empirical Density</text>
<rect x="415.9" y="129.2" width="104.3" height="114.3" fill="#fff" stroke="#222" stroke-width="1.1"/>
<line x1="428" y1="145.7" x2="453.2" y2="145.7" stroke="#00ff00" stroke-width="1.1"/>
<text x="465.3" y="150.9" font-size="13.45">d = Q0</text>
<line x1="428" y1="162.0" x2="453.2" y2="162.0" stroke="#00cc1c" stroke-width="1.1"/>
<text x="465.3" y="167.1" font-size="13.45">d = Q50</text>
<line x1="428" y1="178.3" x2="453.2" y2="178.3" stroke="#009938" stroke-width="1.1"/>
<text x="465.3" y="183.3" font-size="13.45">d = Q70</text>
<line x1="428" y1="194.6" x2="453.2" y2="194.6" stroke="#006653" stroke-width="1.1"/>
<text x="465.3" y="199.4" font-size="13.45">d = Q80</text>
<line x1="428" y1="210.9" x2="453.2" y2="210.9" stroke="#052a73" stroke-width="1.1"/>
<text x="465.3" y="215.6" font-size="13.45">d = Q90</text>
<line x1="428" y1="227.2" x2="453.2" y2="227.2" stroke="#00008b" stroke-width="1.1"/>
<text x="465.3" y="231.8" font-size="13.45">d = Q95</text>
</svg></body></html>
